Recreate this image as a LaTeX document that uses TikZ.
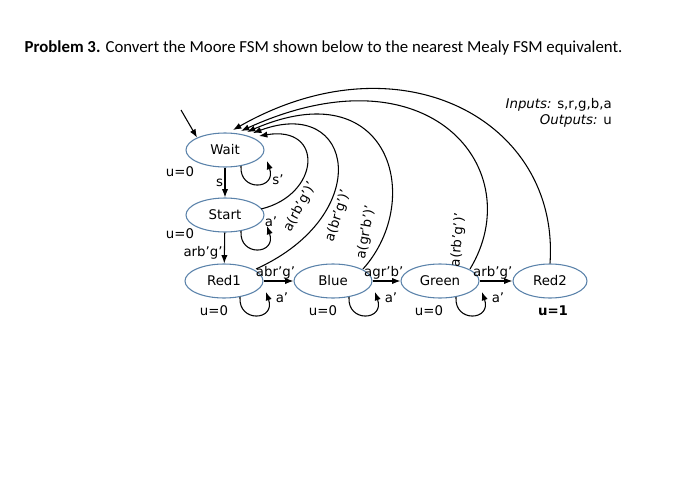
\documentclass[tikz,border=0pt]{standalone}
\usepackage{fontspec}
\setmainfont{DejaVu Sans}
\newfontfamily\titlefont{Carlito}
\usetikzlibrary{shapes.geometric, arrows.meta, positioning, calc}
\definecolor{stateline}{RGB}{90,130,170}

\begin{document}
\begin{tikzpicture}[x=0.75pt, y=-0.75pt,
    % Node styles
    state/.style={ellipse, draw=stateline, thick, minimum width=78*0.75pt, minimum height=34*0.75pt, inner sep=0pt, font=\normalsize},
    outlabel/.style={font=\normalsize},
    trlabel/.style={font=\normalsize, inner sep=1pt},
    arrow/.style={-{Latex[length=2.2mm]}, thick}
]
\useasboundingbox (0,0) rectangle (700,496);

% Title
\node[anchor=west, font=\titlefont\fontsize{12.6}{15}\selectfont] (title) at (20,48) {\textbf{Problem 3.} Convert the Moore FSM shown below to the nearest Mealy FSM equivalent.};

% Legend
\node[anchor=east, align=right, font=\normalsize, inner sep=0pt] (legend) at (612,113) {\textit{Inputs:} s,r,g,b,a\\\textit{Outputs:} u};

% States
\node[state] (wait) at (225,150) {Wait};
\node[state] (start) at (225,215) {Start};
\node[state] (red1) at (224,281) {Red1};
\node[state] (blue) at (333,281) {Blue};
\node[state] (green) at (440,281) {Green};
\node[state, minimum width=74*0.75pt] (red2) at (550,281) {Red2};

% Outputs
\node[outlabel] (uwait) at (180,172) {u=0};
\node[outlabel] (ustart) at (180,234) {u=0};
\node[outlabel] (ured1) at (214,311) {u=0};
\node[outlabel] (ublue) at (323,311) {u=0};
\node[outlabel] (ugreen) at (429,311) {u=0};
\node[outlabel, font=\normalsize\bfseries] (ured2) at (553,311) {u=1};

% Reset arrow
\coordinate (reset) at (181,110);
\draw[arrow] (reset) -- (wait.north west);

% Forward transitions
\draw[arrow] (wait) -- node[trlabel, left] {s} (start);
\draw[arrow] (start) -- node[trlabel, left, pos=0.65] {arb'g'} (red1);
\draw[arrow] (red1) -- node[trlabel, above, pos=0.4] {abr'g'} (blue);
\draw[arrow] (blue) -- node[trlabel, above, pos=0.4] {agr'b'} (green);
\draw[arrow] (green) -- node[trlabel, above, pos=0.4] {arb'g'} (red2);

% Self loops
\foreach \s/\lab/\dx/\dy in {wait/s'/53/30, start/a'/46/7, red1/a'/58/17, blue/a'/58/17, green/a'/58/17}{
  \draw[arrow] ($(\s)+(16,16)$) .. controls ($(\s)+(14,42)$) and ($(\s)+(52,40)$) .. ($(\s)+(42,11)$);
  \node[trlabel] at ($(\s)+(\dx,\dy)$) {\lab};
}

% Return arcs to Wait
\draw[arrow] ($(start)+(36,-6)$) .. controls (320,195) and (325,125) .. ($(wait)+(34,-14)$);
\draw[arrow] ($(red1)+(32,-12)$) .. controls (375,215) and (355,95) .. ($(wait)+(28,-17)$);
\draw[arrow] ($(blue)+(30,-12)$) .. controls (425,200) and (390,70) .. ($(wait)+(22,-18)$);
\draw[arrow] ($(green)+(30,-12)$) .. controls (530,170) and (430,45) .. ($(wait)+(16,-19)$);
\draw[arrow] (red2.north) .. controls (560,120) and (400,35) .. ($(wait)+(8,-20)$);

% Arc labels
\node[trlabel, rotate=62] (l1) at (300,207) {a(rb'g')'};
\node[trlabel, rotate=72] (l2) at (338,216) {a(br'g')'};
\node[trlabel, rotate=80] (l3) at (366,232) {a(gr'b')'};
\node[trlabel, rotate=85] (l4) at (458,240) {a(rb'g')'};
\end{tikzpicture}
\end{document}
